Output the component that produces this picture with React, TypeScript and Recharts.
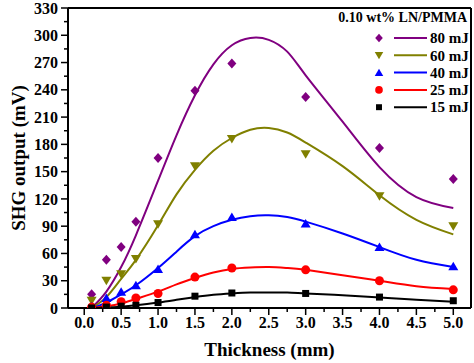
import React from "react";
import { ComposedChart, Line, Scatter, XAxis, YAxis, ReferenceLine } from "recharts";

// measured points (thickness in mm, SHG in mV)
const pointX = [0.1, 0.3, 0.5, 0.7, 1.0, 1.5, 2.0, 3.0, 4.0, 5.0];
const pts80 = [15, 53, 67, 95, 165, 239, 269, 232, 176, 142];
const pts60 = [8, 30, 37, 54, 92, 156, 186, 169, 123, 90];
const pts40 = [2, 11, 18, 25, 43, 81, 100, 93, 67, 46];
const pts25 = [1, 3, 7, 11, 16, 34, 44, 42, 30, 20];
const pts15 = [0, 1, 2, 3, 6, 13, 16.5, 16, 12, 8];

// fitted curves
const fitX = [0.1, 0.3, 0.5, 0.7, 1.0, 1.25, 1.5, 1.75, 2.0, 2.25, 2.5, 2.75, 3.0, 3.5, 4.0, 4.5, 5.0];
const fit80 = [0, 18, 45, 80, 140, 190, 234, 268, 289, 297, 295, 282, 256, 205, 155, 122, 110];
const fit60 = [0, 12, 32, 53, 91, 125, 152, 173, 187, 196, 198, 193, 182, 156, 124, 97, 81];
const fit40 = [0, 6, 15, 25, 44, 62, 79, 90, 97, 101, 102, 100, 95, 82, 67, 53, 45];
const fit25 = [0, 2, 5, 10, 18, 26, 33, 39, 43, 44.5, 45, 44, 42, 36, 30, 24, 21];
const fit15 = [0, 0.5, 1.5, 3, 6, 9, 12, 14.5, 16, 17, 17, 17, 16, 14, 11.5, 9, 7];

const xTicks = [0, 0.5, 1, 1.5, 2, 2.5, 3, 3.5, 4, 4.5, 5];
const xMinor = [-0.25, 0, 0.25, 0.5, 0.75, 1, 1.25, 1.5, 1.75, 2, 2.25, 2.5, 2.75, 3, 3.25, 3.5, 3.75, 4, 4.25, 4.5, 4.75, 5, 5.25].filter(
  (v) => v > -0.22 && v < 5.24
);
const yMinor = Array.from({ length: 23 }, (_, i) => i * 15);

const X_MIN = -0.22;
const X_MAX = 5.24;
const Y_MAX = 330;

const FONT = '"Liberation Serif", "Times New Roman", serif';

type Shape = "diamond" | "down" | "up" | "circle" | "square";

const series: { name: string; color: string; shape: Shape; pts: number[]; fit: number[] }[] = [
  { name: "80 mJ", color: "#800080", shape: "diamond", pts: pts80, fit: fit80 },
  { name: "60 mJ", color: "#808000", shape: "down", pts: pts60, fit: fit60 },
  { name: "40 mJ", color: "#0000ff", shape: "up", pts: pts40, fit: fit40 },
  { name: "25 mJ", color: "#ff0000", shape: "circle", pts: pts25, fit: fit25 },
  { name: "15 mJ", color: "#000000", shape: "square", pts: pts15, fit: fit15 },
];

function Marker({ cx, cy, shape, color, k = 1 }: { cx: number; cy: number; shape: Shape; color: string; k?: number }) {
  if (cx == null || cy == null) return null;
  switch (shape) {
    case "diamond":
      return <polygon points={`${cx},${cy - 5 * k} ${cx + 4.5 * k},${cy} ${cx},${cy + 5 * k} ${cx - 4.5 * k},${cy}`} fill={color} />;
    case "down":
      return <polygon points={`${cx - 5 * k},${cy - 4 * k} ${cx + 5 * k},${cy - 4 * k} ${cx},${cy + 4.5 * k}`} fill={color} />;
    case "up":
      return <polygon points={`${cx - 5 * k},${cy + 4 * k} ${cx + 5 * k},${cy + 4 * k} ${cx},${cy - 4.5 * k}`} fill={color} />;
    case "circle":
      return <circle cx={cx} cy={cy} r={4.5 * k} fill={color} />;
    default:
      return <rect x={cx - 3.5 * k} y={cy - 3.5 * k} width={7 * k} height={7 * k} fill={color} />;
  }
}

const XTick = (props: any) => {
  const { x, y, payload } = props;
  const ay = y - 10;
  const major = xTicks.some((t) => Math.abs(t - payload.value) < 1e-6);
  return (
    <g>
      <line x1={x} x2={x} y1={ay} y2={ay + (major ? 7 : 4)} stroke="#000" strokeWidth={1.5} />
      {major && (
        <text x={x} y={ay + 20} textAnchor="middle" fontFamily={FONT} fontWeight="bold" fontSize={16} fill="#000">
          {payload.value.toFixed(1)}
        </text>
      )}
    </g>
  );
};

const YTick = (props: any) => {
  const { x, y, payload } = props;
  const ax = x + 10;
  const major = payload.value % 30 === 0;
  return (
    <g>
      <line x1={ax} x2={ax - (major ? 7 : 4)} y1={y} y2={y} stroke="#000" strokeWidth={1.5} />
      {major && (
        <text x={ax - 10} y={y} dy="0.35em" textAnchor="end" fontFamily={FONT} fontWeight="bold" fontSize={16} fill="#000">
          {payload.value}
        </text>
      )}
    </g>
  );
};

export default function App() {
  return (
    <div style={{ position: "relative", width: 474, height: 363, background: "#fff" }}>
      <style>{`body{margin:0}`}</style>
      <ComposedChart width={474} height={363} margin={{ top: 8, right: 3, left: 0, bottom: 0 }}>
        <XAxis
          dataKey="x"
          type="number"
          domain={[X_MIN, X_MAX]}
          allowDataOverflow
          ticks={xMinor}
          interval={0}
          tick={<XTick />}
          tickLine={false}
          tickSize={7}
          tickMargin={3}
          height={55}
          axisLine={{ stroke: "#000", strokeWidth: 2 }}
          label={{
            value: "Thickness (mm)",
            position: "insideBottom",
            offset: 7,
            style: { fontFamily: FONT, fontWeight: "bold", fontSize: 19, fill: "#000" },
          }}
        />
        <YAxis
          type="number"
          domain={[0, Y_MAX]}
          allowDataOverflow
          ticks={yMinor}
          interval={0}
          tick={<YTick />}
          tickLine={false}
          tickSize={7}
          tickMargin={3}
          width={68}
          axisLine={{ stroke: "#000", strokeWidth: 2 }}
          label={{
            value: "SHG output (mV)",
            angle: -90,
            position: "insideLeft",
            offset: 18,
            style: { textAnchor: "middle", fontFamily: FONT, fontWeight: "bold", fontSize: 19, fill: "#000" },
          }}
        />
        <ReferenceLine y={Y_MAX} stroke="#000" strokeWidth={2} />
        <ReferenceLine x={X_MAX} stroke="#000" strokeWidth={2} />
        {series.map((s) => (
          <Line
            key={"fit" + s.name}
            data={fitX.map((x, i) => ({ x, y: s.fit[i] }))}
            dataKey="y"
            type="natural"
            stroke={s.color}
            strokeWidth={2}
            dot={false}
            activeDot={false}
            isAnimationActive={false}
          />
        ))}
        {series.map((s) => (
          <Scatter
            key={"pts" + s.name}
            data={pointX.map((x, i) => ({ x, y: s.pts[i] }))}
            dataKey="y"
            shape={(p: any) => <Marker cx={p.cx} cy={p.cy} shape={s.shape} color={s.color} />}
            isAnimationActive={false}
          />
        ))}
      </ComposedChart>
      <svg width={474} height={363} style={{ position: "absolute", left: 0, top: 0, pointerEvents: "none" }}>
        <text x={467} y={17} dy="0.35em" textAnchor="end" fontFamily={FONT} fontWeight="bold" fontSize={14} fill="#000">
          0.10 wt% LN/PMMA
        </text>
        {series.map((s, i) => {
          const cy = 38 + i * 17.3;
          return (
            <g key={s.name}>
              <Marker cx={379} cy={cy} shape={s.shape} color={s.color} k={0.85} />
              <line x1={394} x2={427} y1={cy} y2={cy} stroke={s.color} strokeWidth={2} />
              <text x={430} y={cy} dy="0.35em" fontFamily={FONT} fontWeight="bold" fontSize={15} fill="#000">
                {s.name}
              </text>
            </g>
          );
        })}
      </svg>
    </div>
  );
}
